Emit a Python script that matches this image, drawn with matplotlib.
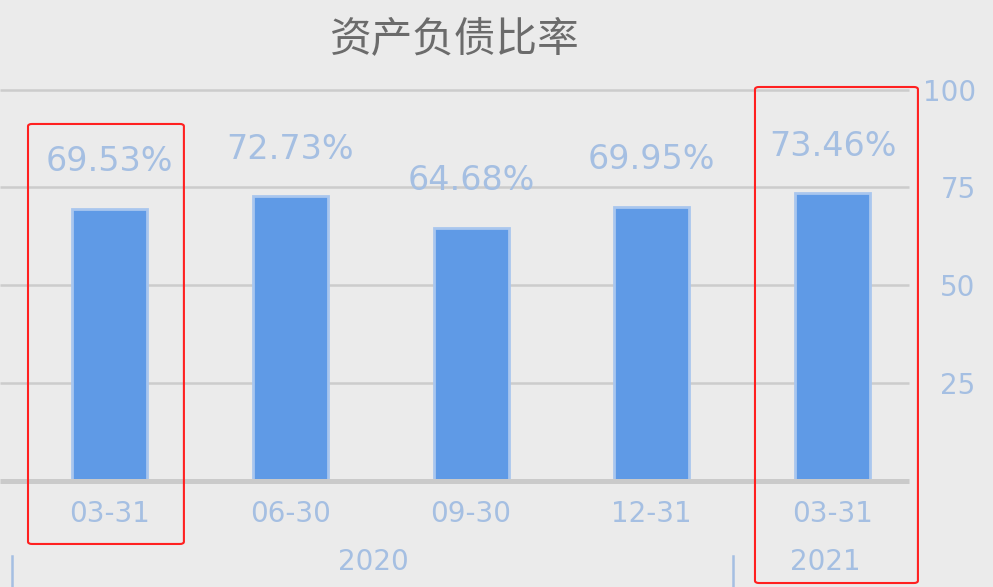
import matplotlib.pyplot as plt
import matplotlib.transforms as mtransforms
from matplotlib.patches import FancyBboxPatch
from matplotlib.lines import Line2D

# datos del grafico
fechas = ['03-31', '06-30', '09-30', '12-31', '03-31']
ratios = [69.53, 72.73, 64.68, 69.95, 73.46]
anios = ['2020', '2021']
anio_x = [1.46, 3.96]          # centro de cada grupo de año (en unidades de barra)
separadores = [-0.54, 3.45]    # lineas verticales entre años
ticks_der = [25, 50, 75, 100]

plt.rcParams['font.family'] = ['DejaVu Sans', 'Noto Sans CJK SC']

fondo = '#ebebeb'
azul = '#5f9ae6'
azul_borde = '#a9c6ee'
azul_texto = '#a5bfe2'

fig = plt.figure(figsize=(9.93, 5.87), dpi=100, facecolor=fondo)
ax = fig.add_axes([0, 0.1814, 909/993, 0.6661], facecolor=fondo)

x = list(range(len(ratios)))
ax.bar(x, ratios, width=0.415, color=azul, edgecolor=azul_borde, linewidth=2.0, zorder=3)

for xi, v in zip(x, ratios):
    ax.annotate(f'{v:.2f}%', (xi, v), xytext=(0, 22), textcoords='offset points',
                ha='center', va='bottom', fontsize=24, color=azul_texto, zorder=4)

for t in ticks_der:
    ax.axhline(t, color='#cccccc', lw=1.8, zorder=1, clip_on=False, solid_capstyle='butt')
ax.axhline(0, color='#cacaca', lw=3.6, zorder=4, clip_on=False, solid_capstyle='butt')

ax.set_xlim(-0.606, 4.423)
ax.set_ylim(0, 100)
ax.set_xticks(x)
ax.set_xticklabels(fechas)
ax.tick_params(axis='x', length=0, pad=14, labelsize=20, labelcolor=azul_texto)

ax.yaxis.tick_right()
ax.set_yticks(ticks_der)
ax.tick_params(axis='y', length=0, pad=48, labelsize=20, labelcolor=azul_texto)
for lab in ax.get_yticklabels():
    lab.set_horizontalalignment('right')

for s in ax.spines.values():
    s.set_visible(False)

# etiquetas de año y separadores
trans = mtransforms.blended_transform_factory(ax.transData, fig.transFigure)
for a, xa in zip(anios, anio_x):
    ax.text(xa, 0.0426, a, transform=trans, ha='center', va='center',
            fontsize=20, color=azul_texto, clip_on=False)
for xs in separadores:
    ax.add_line(Line2D([xs, xs], [0, 0.053], transform=trans, color=azul_texto,
                       lw=1.8, clip_on=False))

fig.text(0.458, 0.932, '资产负债比率', ha='center', va='center', fontsize=30,
         color='#6b6b6b', family=['Noto Sans CJK SC', 'DejaVu Sans'])

# recuadros rojos
for (x0, y0, w, h) in [(0.0282, 0.0733, 0.157, 0.7155), (0.7603, 0.0068, 0.1641, 0.845)]:
    fig.patches.append(FancyBboxPatch((x0, y0), w, h, boxstyle='round,pad=0,rounding_size=0.004',
                                      transform=fig.transFigure, fill=False,
                                      edgecolor='#ff2020', lw=1.5, zorder=10))

fig.savefig('out.png', dpi=100, facecolor=fondo)
